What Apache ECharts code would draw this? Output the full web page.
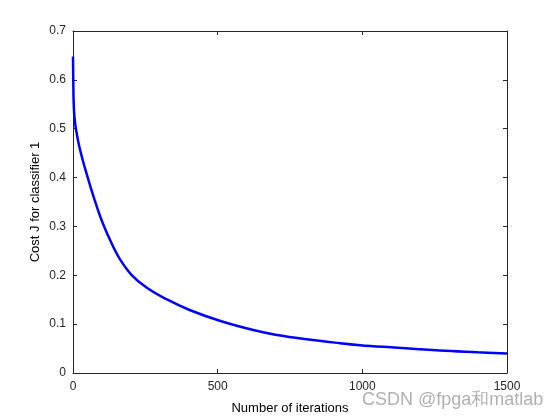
<!DOCTYPE html>
<html>
<head>
<meta charset="utf-8">
<script src="https://cdn.jsdelivr.net/npm/echarts@6/dist/echarts.min.js"></script>
<style>html,body{margin:0;padding:0;background:#fff;}#c{width:560px;height:420px;}</style>
</head>
<body>
<div id="c"></div>
<script>
var iterations = [0, 1, 2, 4, 7, 10, 20, 33, 45, 60, 81, 104, 133, 161, 202, 254, 323, 403, 507, 623, 700, 808, 923, 992, 1100, 1268, 1400, 1500];
var costs = [0.648, 0.595, 0.560, 0.532, 0.513, 0.500, 0.468, 0.437, 0.412, 0.382, 0.343, 0.305, 0.266, 0.234, 0.201, 0.175, 0.151, 0.129, 0.107, 0.088, 0.0785, 0.069, 0.061, 0.057, 0.0525, 0.046, 0.0425, 0.040];
var xTicks = [0, 500, 1000, 1500];
var xLabel = 'Number of iterations';
var yLabel = 'Cost J for classifier 1';
var watermark = 'CSDN @fpga和matlab';

var data = iterations.map(function (v, i) { return [v, costs[i]]; });
var font = 'Liberation Sans, Arial, Helvetica, sans-serif';
var axisCol = '#262626';
var chart = echarts.init(document.getElementById('c'), null, {renderer: 'canvas'});
var baseX = {
  type: 'value', min: 0, max: 1500, interval: 500,
  axisLine: {show: true, onZero: false, lineStyle: {color: axisCol, width: 1}},
  axisTick: {show: true, inside: true, length: 4, lineStyle: {color: axisCol}},
  splitLine: {show: false}
};
var baseY = {
  type: 'value', min: 0, max: 0.7, interval: 0.1,
  axisLine: {show: true, onZero: false, lineStyle: {color: axisCol, width: 1}},
  axisTick: {show: true, inside: true, length: 4, lineStyle: {color: axisCol}},
  splitLine: {show: false}
};
chart.setOption({
  animation: false,
  backgroundColor: '#fff',
  grid: {left: 73, top: 31, right: 53, bottom: 47, containLabel: false},
  xAxis: [
    Object.assign({}, baseX, {
      position: 'bottom',
      name: xLabel, nameLocation: 'middle', nameGap: 29, nameMoveOverlap: false,
      nameTextStyle: {fontFamily: font, fontSize: 13, color: '#000'},
      axisLabel: {show: true, margin: 8, fontFamily: font, fontSize: 12, color: axisCol,
        formatter: function (v) { return xTicks.indexOf(v) >= 0 ? String(v) : ''; }}
    }),
    Object.assign({}, baseX, {position: 'top', axisLabel: {show: false}})
  ],
  yAxis: [
    Object.assign({}, baseY, {
      position: 'left',
      name: yLabel, nameLocation: 'middle', nameGap: 31, nameRotate: 90, nameMoveOverlap: false,
      nameTextStyle: {fontFamily: font, fontSize: 13, color: '#000'},
      axisLabel: {show: true, margin: 7, fontFamily: font, fontSize: 12, color: axisCol,
        formatter: function (v) { return String(Math.round(v * 10) / 10); }}
    }),
    Object.assign({}, baseY, {position: 'right', axisLabel: {show: false}})
  ],
  series: [{
    type: 'line', data: data, xAxisIndex: 0, yAxisIndex: 0,
    showSymbol: false, smooth: 0.4,
    lineStyle: {color: '#0000ff', width: 2.5}
  }],
  graphic: [{
    type: 'text', left: 362, top: 391, silent: true,
    style: {text: watermark, font: '18px ' + font, fill: 'rgba(150,150,150,0.75)'}
  }]
});
</script>
</body>
</html>
